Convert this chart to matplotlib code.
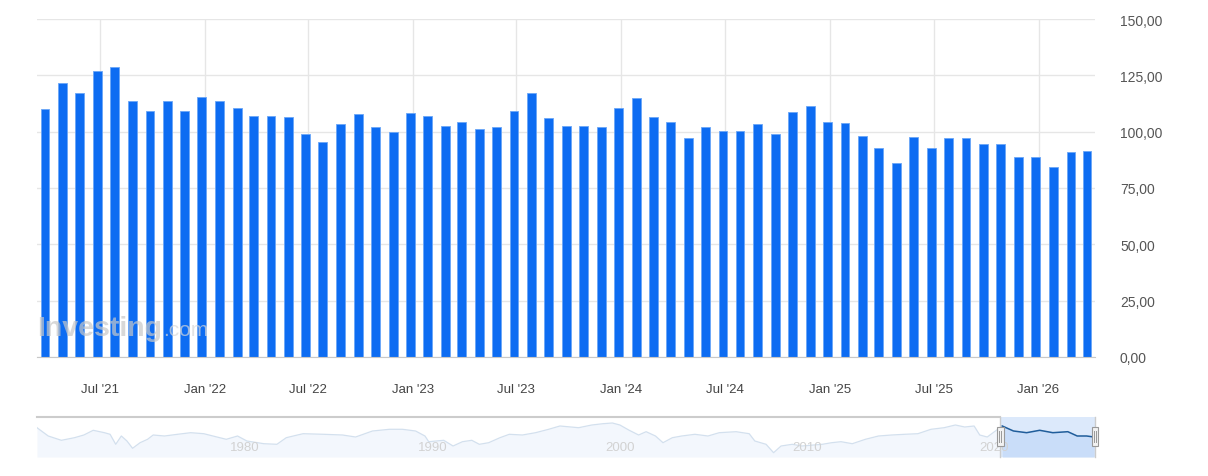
import numpy as np
import pandas as pd
import matplotlib
matplotlib.use("Agg")
from matplotlib import pyplot as plt
from matplotlib.patches import Rectangle

plt.rcParams['font.family'] = ['Liberation Sans', 'DejaVu Sans']

# monthly values, Mar 2021 .. Mar 2026
values = [110.0, 121.6, 117.2, 127.1, 128.7, 113.8, 109.3, 113.8, 109.3, 115.4,
          113.8, 110.4, 107.1, 107.1, 106.5, 98.9, 95.6, 103.4, 107.9, 102.1,
          100.0, 108.3, 107.1, 102.7, 104.3, 101.0, 102.1, 109.3, 117.2, 105.9,
          102.7, 102.7, 102.1, 110.4, 114.8, 106.5, 104.3, 97.1, 102.1, 100.5,
          100.5, 103.3, 98.8, 108.7, 111.6, 104.3, 103.9, 98.2, 92.6, 86.1,
          97.6, 92.6, 97.1, 97.1, 94.4, 94.4, 88.8, 88.8, 84.3, 91.0, 91.6]
dates = pd.date_range('2021-03-01', periods=len(values), freq='MS') + pd.Timedelta(days=26)

tick_dates = pd.date_range('2021-07-01', '2026-01-01', freq='6MS')
tick_labels = ["Jul '21", "Jan '22", "Jul '22", "Jan '23", "Jul '23", "Jan '24",
               "Jul '24", "Jan '25", "Jul '25", "Jan '26"]
y_ticks = [0, 25, 50, 75, 100, 125, 150]

# navigator history (rough shape read from the small overview strip)
nav_years = [1969.8, 1970.4, 1971.1, 1971.8, 1972.3, 1972.8, 1973.4, 1973.7, 1974.0, 1974.3,
             1974.6, 1974.9, 1975.3, 1975.7, 1976.0, 1976.6, 1977.3, 1978.0, 1978.7, 1979.4,
             1979.9, 1980.5, 1981.0, 1981.9, 1982.6, 1983.1, 1983.7, 1984.0, 1985.1, 1986.1,
             1986.8, 1987.7, 1988.6, 1989.3, 1990.0, 1990.5, 1990.7, 1991.5, 1992.0, 1992.5,
             1993.0, 1993.4, 1993.9, 1994.5, 1995.0, 1995.7, 1996.4, 1997.1, 1997.7, 1998.7,
             1999.4, 2000.0, 2000.5, 2000.9, 2001.4, 2001.9, 2002.3, 2002.8, 2003.2, 2003.7,
             2004.2, 2004.9, 2005.6, 2006.2, 2007.1, 2007.8, 2008.1, 2008.7, 2009.1, 2009.5,
             2010.1, 2010.6, 2011.7, 2012.2, 2012.7, 2013.3, 2014.0, 2014.7, 2015.4, 2016.1,
             2016.8, 2017.5, 2018.2, 2018.8, 2019.3, 2019.8, 2020.1, 2020.5, 2021.3, 2021.9,
             2022.6, 2023.3, 2024.0, 2024.8, 2025.3, 2025.8, 2026.2]
nav_vals = [29.3, 21.0, 16.7, 19.3, 22.0, 26.7, 24.3, 22.7, 12.7, 21.0,
            16.0, 8.7, 14.3, 17.7, 22.0, 21.0, 22.7, 24.3, 23.3, 20.0,
            17.7, 21.0, 16.0, 13.3, 12.7, 19.3, 22.0, 23.3, 22.7, 22.0,
            20.0, 26.0, 27.7, 27.7, 26.0, 21.0, 15.3, 16.7, 11.0, 15.3,
            16.7, 12.7, 14.3, 19.3, 22.7, 22.0, 24.3, 27.7, 31.0, 29.3,
            32.0, 33.3, 34.0, 32.0, 26.7, 22.0, 25.3, 21.0, 14.3, 19.3,
            21.0, 22.7, 21.0, 24.3, 25.3, 23.3, 16.0, 12.7, 4.3, 11.0,
            12.7, 11.0, 12.7, 14.3, 15.3, 13.3, 17.7, 21.0, 22.0, 22.7,
            23.3, 27.7, 29.3, 32.0, 30.0, 31.0, 22.0, 20.0, 31.0, 26.0,
            24.3, 26.7, 24.3, 25.3, 21.0, 21.0, 20.0]
nav_labels = [1980, 1990, 2000, 2010, 2020]
sel_start, sel_end = 2021.2, 2026.25

fig = plt.figure(figsize=(12.08, 4.77), dpi=100)
ax = fig.add_axes([37 / 1208, 119 / 477, 1058 / 1208, 338 / 477])

ax.bar(dates, values, width=15.5, color='#0d6cf2', edgecolor='#6aa6f7',
       linewidth=0.6, zorder=3)
ax.set_xlim(dates[0] - pd.Timedelta(days=14), dates[-1] + pd.Timedelta(days=14))
ax.set_ylim(0, 150)

ax.set_xticks(tick_dates)
ax.set_xticklabels(tick_labels)
ax.set_yticks(y_ticks)
ax.set_yticklabels([f"{v:.2f}".replace('.', ',') for v in y_ticks])
ax.yaxis.tick_right()
ax.tick_params(axis='y', length=0, pad=18, labelsize=10, labelcolor='#555555')
ax.tick_params(axis='x', length=0, pad=19, labelsize=9.5, labelcolor='#444444')
for lab in ax.get_yticklabels():
    lab.set_horizontalalignment('left')
ax.grid(True, color='#e6e6e6', linewidth=1, zorder=0)
for s in ['top', 'left', 'right']:
    ax.spines[s].set_visible(False)
ax.spines['bottom'].set_color('#c8c8c8')
ax.spines['bottom'].set_zorder(4)

# watermark
ax.text(0.0, 0.085, 'Investing', transform=ax.transAxes, fontsize=20.5,
        fontweight='bold', color='#c8c8c8', alpha=0.7, zorder=4, va='center')
ax.text(0.119, 0.08, '.com', transform=ax.transAxes, fontsize=15,
        color='#d8d8d8', alpha=0.7, zorder=4, va='center')

# navigator
nav = fig.add_axes([37 / 1208, 19 / 477, 1058 / 1208, 40 / 477])
nx = np.array(nav_years)
ny = np.array(nav_vals)
nav.fill_between(nx, 0, ny, color='#f3f7fd', lw=0)
nav.plot(nx, ny, color='#d3e0ee', lw=0.9)
m = nx >= sel_start - 0.3
nav.axvspan(sel_start, sel_end, color='#dce9fb', lw=0)
nav.fill_between(nx[m], 0, ny[m], color='#c9ddf9', lw=0)
nav.plot(nx[m], ny[m], color='#1f5d9c', lw=1.1)
nav.plot([nx[0], sel_start], [40, 40], color='#cccccc', lw=1.5, clip_on=False)
nav.plot([sel_start, sel_start], [0, 40], color='#cccccc', lw=1, clip_on=False)
nav.plot([sel_end, sel_end], [0, 40], color='#cccccc', lw=1, clip_on=False)
for hx in (sel_start, sel_end):
    nav.add_patch(Rectangle((hx - 0.18, 11), 0.36, 19, facecolor='#f2f2f2',
                            edgecolor='#999999', lw=0.8, zorder=5, clip_on=False))
    for dx in (-0.06, 0.06):
        nav.plot([hx + dx, hx + dx], [15, 26], color='#999999', lw=0.7,
                 zorder=6, clip_on=False)
for yr in nav_labels:
    nav.text(yr + 0.1, 10, str(yr), fontsize=9.5, color='#d2d2d2',
             ha='left', va='center')
nav.set_xlim(nx[0], sel_end)
nav.set_ylim(0, 40)
nav.axis('off')

fig.savefig('out.png', dpi=100, facecolor='white')
